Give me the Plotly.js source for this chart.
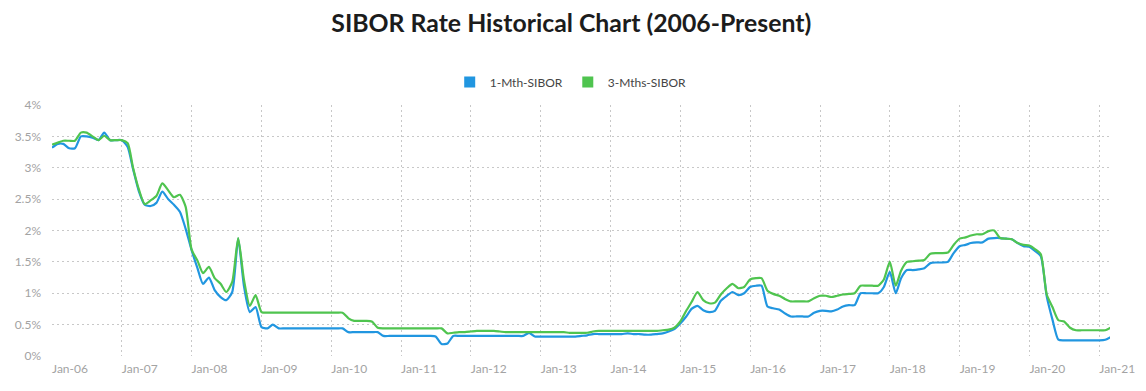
<!DOCTYPE html>
<html><head><meta charset="utf-8">
<script src="https://cdn.plot.ly/plotly-3.0.1.min.js"></script>
<style>html,body{margin:0;padding:0;background:#fff}#chart{width:1146px;height:391px}</style>
</head><body><div id="chart"></div>
<script>
// Monthly SIBOR readings (%), first value = Jan 2006
const startYear = 2006;
const sibor1m = [
  3.32, 3.38, 3.38, 3.31, 3.31, 3.50, 3.50, 3.48, 3.44, 3.56, 3.44, 3.44,
  3.44, 3.33, 2.98, 2.62, 2.41, 2.39, 2.44, 2.62, 2.50, 2.41, 2.30, 2.03,
  1.69, 1.40, 1.15, 1.25, 1.05, 0.94, 0.89, 1.02, 1.87, 1.12, 0.70, 0.78,
  0.46, 0.44, 0.50, 0.44, 0.44, 0.44, 0.44, 0.44, 0.44, 0.44, 0.44, 0.44,
  0.44, 0.44, 0.44, 0.38, 0.38, 0.38, 0.38, 0.38, 0.38, 0.32, 0.32, 0.32,
  0.32, 0.32, 0.32, 0.32, 0.32, 0.32, 0.31, 0.19, 0.20, 0.32, 0.32, 0.32,
  0.32, 0.32, 0.32, 0.32, 0.32, 0.32, 0.32, 0.32, 0.32, 0.32, 0.37, 0.31,
  0.31, 0.31, 0.31, 0.31, 0.31, 0.31, 0.31, 0.32, 0.33, 0.35, 0.35, 0.35,
  0.35, 0.35, 0.35, 0.36, 0.35, 0.35, 0.34, 0.34, 0.35, 0.36, 0.39, 0.43,
  0.52, 0.63, 0.75, 0.80, 0.73, 0.70, 0.72, 0.88, 0.96, 1.02, 0.97, 1.00,
  1.10, 1.12, 1.12, 0.79, 0.76, 0.74, 0.68, 0.63, 0.63, 0.63, 0.63, 0.69,
  0.72, 0.72, 0.71, 0.74, 0.79, 0.81, 0.81, 1.00, 1.00, 1.00, 1.00, 1.10,
  1.34, 1.00, 1.24, 1.37, 1.37, 1.38, 1.40, 1.48, 1.49, 1.49, 1.50, 1.64,
  1.75, 1.77, 1.80, 1.81, 1.81, 1.87, 1.88, 1.88, 1.87, 1.86, 1.80, 1.75,
  1.74, 1.67, 1.59, 0.95, 0.58, 0.26, 0.25, 0.25, 0.25, 0.25, 0.25, 0.25,
  0.25, 0.26, 0.30
];
const sibor3m = [
  3.37, 3.40, 3.43, 3.43, 3.43, 3.56, 3.56, 3.50, 3.44, 3.51, 3.44, 3.44,
  3.44, 3.39, 3.00, 2.65, 2.42, 2.48, 2.55, 2.75, 2.64, 2.53, 2.57, 2.38,
  1.70, 1.52, 1.32, 1.42, 1.24, 1.15, 1.02, 1.18, 1.88, 1.22, 0.80, 0.97,
  0.70, 0.69, 0.69, 0.69, 0.69, 0.69, 0.69, 0.69, 0.69, 0.69, 0.69, 0.69,
  0.69, 0.69, 0.69, 0.60, 0.56, 0.56, 0.56, 0.55, 0.45, 0.44, 0.44, 0.44,
  0.44, 0.44, 0.44, 0.44, 0.44, 0.44, 0.44, 0.44, 0.36, 0.37, 0.38, 0.38,
  0.39, 0.40, 0.40, 0.40, 0.40, 0.39, 0.38, 0.38, 0.38, 0.38, 0.38, 0.38,
  0.38, 0.38, 0.38, 0.38, 0.38, 0.37, 0.37, 0.37, 0.37, 0.39, 0.40, 0.40,
  0.40, 0.40, 0.40, 0.40, 0.40, 0.40, 0.40, 0.40, 0.40, 0.41, 0.42, 0.45,
  0.55, 0.72, 0.86, 1.02, 0.89, 0.84, 0.85, 0.98, 1.08, 1.15, 1.08, 1.10,
  1.22, 1.24, 1.24, 1.04, 0.99, 0.96, 0.91, 0.87, 0.87, 0.87, 0.87, 0.92,
  0.96, 0.96, 0.94, 0.96, 0.98, 0.99, 1.00, 1.12, 1.12, 1.12, 1.12, 1.22,
  1.50, 1.12, 1.36, 1.50, 1.51, 1.52, 1.53, 1.63, 1.64, 1.64, 1.65, 1.77,
  1.87, 1.89, 1.92, 1.94, 1.94, 1.99, 2.00, 1.88, 1.87, 1.86, 1.80, 1.77,
  1.76, 1.70, 1.62, 0.98, 0.78, 0.57, 0.55, 0.45, 0.41, 0.41, 0.41, 0.41,
  0.41, 0.41, 0.45
];
const seriesNames = ['1-Mth-SIBOR', '3-Mths-SIBOR'];
const seriesColors = ['#2196e0', '#4fc44f'];
const yTickVals = [0, 0.5, 1, 1.5, 2, 2.5, 3, 3.5, 4];
const yTickText = yTickVals.map(v => v + '%');
const chartTitle = 'SIBOR Rate Historical Chart (2006-Present)';

const months = sibor1m.map((_, i) => {
  const y = startYear + Math.floor(i / 12);
  const m = (i % 12) + 1;
  return y + '-' + String(m).padStart(2, '0') + '-01';
});

const seriesData = [sibor1m, sibor3m];
const traces = [];
seriesData.forEach((vals, k) => {
  traces.push({
    type: 'scatter', mode: 'lines', x: months, y: vals,
    name: seriesNames[k], showlegend: false, hoverinfo: 'skip',
    line: {color: seriesColors[k], width: 2.2, shape: 'spline', smoothing: 0.6}
  });
});
seriesData.forEach((vals, k) => {
  traces.push({
    type: 'scatter', mode: 'markers', x: [null], y: [null],
    name: seriesNames[k], showlegend: true,
    marker: {symbol: 'square', size: 11, color: seriesColors[k]}
  });
});

const gridStyle = {showgrid: true, gridcolor: '#c8c8c8', gridwidth: 1, griddash: '2px,3px', zeroline: false, showline: false};
const layout = {
  width: 1146, height: 391,
  paper_bgcolor: '#ffffff', plot_bgcolor: '#ffffff',
  font: {family: 'Lato, sans-serif', color: '#999'},
  margin: {l: 52, r: 36, t: 105, b: 35},
  title: {
    text: chartTitle, x: 0.4985, xref: 'container', xanchor: 'center',
    y: 1 - 23 / 391, yref: 'container', yanchor: 'middle',
    font: {family: 'Lato, sans-serif', size: 24.8, color: '#1c1c1c', weight: 700}
  },
  showlegend: true,
  legend: {
    orientation: 'h', x: 0.498, xref: 'container', xanchor: 'center',
    y: 1 - 82 / 391, yref: 'container', yanchor: 'middle',
    font: {family: 'Lato, sans-serif', size: 12, color: '#444'},
    itemwidth: 30, bgcolor: 'rgba(0,0,0,0)'
  },
  xaxis: Object.assign({}, gridStyle, {
    type: 'date', range: ['2006-01-01', '2021-02-26'],
    tick0: '2006-01-01', dtick: 'M12', tickformat: '%b-%y',
    ticks: '', ticklabelshift: 18, ticklabelstandoff: 4,
    tickfont: {family: 'Lato, sans-serif', size: 12, color: '#a3a3a3'}
  }),
  yaxis: Object.assign({}, gridStyle, {
    range: [0, 4], tickvals: yTickVals, ticktext: yTickText,
    ticks: '', ticklabelstandoff: 10,
    tickfont: {family: 'Lato, sans-serif', size: 12, color: '#a3a3a3'}
  })
};

Plotly.newPlot('chart', traces, layout, {staticPlot: true, displayModeBar: false});
</script>
</body></html>
